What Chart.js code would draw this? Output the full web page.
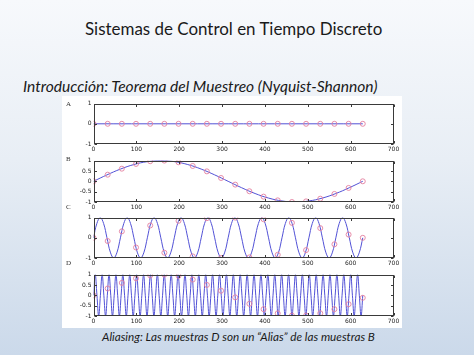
<!DOCTYPE html>
<html><head><meta charset="utf-8">
<script src="https://cdn.jsdelivr.net/npm/chart.js@4.4.1/dist/chart.umd.min.js"></script>
<style>
html,body{margin:0;padding:0;}
body{width:474px;height:355px;overflow:hidden;position:relative;background:linear-gradient(to bottom,#f7f9fc 0%,#e8eef5 45%,#cbd9ea 100%);}
.txt{position:absolute;white-space:nowrap;line-height:1;color:#1a1a1a;font-family:Lato,sans-serif;}
#fig{position:absolute;left:62px;top:96px;width:340px;height:232px;background:#ffffff;}
canvas{position:absolute;}
.lab{position:absolute;font-family:"Liberation Serif",serif;font-size:7px;line-height:1;color:#333;}
</style></head>
<body>
<div id="fig"></div>
<div class="txt" id="title">Sistemas de Control en Tiempo Discreto</div>
<div class="txt" id="sub" style="font-style:italic">Introducción: Teorema del Muestreo (Nyquist-Shannon)</div>
<div class="txt" id="cap" style="font-style:italic">Aliasing: Las muestras D son un “Alias” de las muestras B</div>
<script>
// ---- data ----
const panelNames = ["A", "B", "C", "D"];
const xTicks = [0, 100, 200, 300, 400, 500, 600, 700];

const sampleX = [0, 33.07, 66.14, 99.21, 132.28, 165.35, 198.42, 231.49, 264.56, 297.63,
  330.69, 363.76, 396.83, 429.9, 462.97, 496.04, 529.11, 562.18, 595.25, 628.32];
const sampleA = [0, 0, 0, 0, 0, 0, 0, 0, 0, 0, 0, 0, 0, 0, 0, 0, 0, 0, 0, 0];
const sampleB = [0, 0.32, 0.61, 0.84, 0.97, 1.0, 0.92, 0.74, 0.48, 0.16,
  -0.16, -0.48, -0.74, -0.92, -1.0, -0.97, -0.84, -0.61, -0.32, 0];
const sampleC = [0, -0.16, 0.32, -0.48, 0.61, -0.74, 0.84, -0.92, 0.97, -1.0,
  1.0, -0.97, 0.92, -0.84, 0.74, -0.61, 0.48, -0.32, 0.16, 0];
const sampleD = [0, 0.33, 0.6, 0.82, 0.96, 1.0, 0.94, 0.76, 0.5, 0.22,
  -0.1, -0.41, -0.67, -0.87, -0.98, -0.98, -0.87, -0.67, -0.43, -0.12];

const lineAX = [0, 628.32];
const lineAY = [0, 0];
const lineBX = [0, 31.42, 62.83, 94.25, 125.66, 157.08, 188.5, 219.91, 251.33, 282.74, 314.16,
  345.58, 376.99, 408.41, 439.82, 471.24, 502.65, 534.07, 565.49, 596.9, 628.32];
const lineBY = [0, 0.31, 0.59, 0.81, 0.95, 1, 0.95, 0.81, 0.59, 0.31, 0,
  -0.31, -0.59, -0.81, -0.95, -1, -0.95, -0.81, -0.59, -0.31, 0];
const lineCX = [0, 7.85, 15.71, 23.56, 31.42, 39.27, 47.12, 54.98, 62.83, 70.69,
  78.54, 86.39, 94.25, 102.1, 109.96, 117.81, 125.66, 133.52, 141.37, 149.23,
  157.08, 164.93, 172.79, 180.64, 188.5, 196.35, 204.2, 212.06, 219.91, 227.77,
  235.62, 243.47, 251.33, 259.18, 267.04, 274.89, 282.74, 290.6, 298.45, 306.31,
  314.16, 322.01, 329.87, 337.72, 345.58, 353.43, 361.28, 369.14, 376.99, 384.85,
  392.7, 400.55, 408.41, 416.26, 424.12, 431.97, 439.82, 447.68, 455.53, 463.39,
  471.24, 479.09, 486.95, 494.8, 502.65, 510.51, 518.36, 526.22, 534.07, 541.92,
  549.78, 557.63, 565.49, 573.34, 581.19, 589.05, 596.9, 604.76, 612.61, 620.47, 628.32];
const lineCY = [
  0, 0.71, 1, 0.71, 0, -0.71, -1, -0.71,
  0, 0.71, 1, 0.71, 0, -0.71, -1, -0.71,
  0, 0.71, 1, 0.71, 0, -0.71, -1, -0.71,
  0, 0.71, 1, 0.71, 0, -0.71, -1, -0.71,
  0, 0.71, 1, 0.71, 0, -0.71, -1, -0.71,
  0, 0.71, 1, 0.71, 0, -0.71, -1, -0.71,
  0, 0.71, 1, 0.71, 0, -0.71, -1, -0.71,
  0, 0.71, 1, 0.71, 0, -0.71, -1, -0.71,
  0, 0.71, 1, 0.71, 0, -0.71, -1, -0.71,
  0, 0.71, 1, 0.71, 0, -0.71, -1, -0.71,
  0];
const lineDX = [0, 4.03, 8.06, 12.08, 16.11, 20.14, 24.17, 28.19, 32.22, 36.25,
  40.28, 44.3, 48.33, 52.36, 56.39, 60.42, 64.44, 68.47, 72.5, 76.53,
  80.55, 84.58, 88.61, 92.64, 96.66, 100.69, 104.72, 108.75, 112.78, 116.8,
  120.83, 124.86, 128.89, 132.91, 136.94, 140.97, 145.0, 149.02, 153.05, 157.08,
  161.11, 165.14, 169.16, 173.19, 177.22, 181.25, 185.27, 189.3, 193.33, 197.36,
  201.38, 205.41, 209.44, 213.47, 217.5, 221.52, 225.55, 229.58, 233.61, 237.63,
  241.66, 245.69, 249.72, 253.74, 257.77, 261.8, 265.83, 269.85, 273.88, 277.91,
  281.94, 285.97, 289.99, 294.02, 298.05, 302.08, 306.1, 310.13, 314.16, 318.19,
  322.22, 326.24, 330.27, 334.3, 338.33, 342.35, 346.38, 350.41, 354.44, 358.46,
  362.49, 366.52, 370.55, 374.58, 378.6, 382.63, 386.66, 390.69, 394.71, 398.74,
  402.77, 406.8, 410.82, 414.85, 418.88, 422.91, 426.94, 430.96, 434.99, 439.02,
  443.05, 447.07, 451.1, 455.13, 459.16, 463.18, 467.21, 471.24, 475.27, 479.3,
  483.32, 487.35, 491.38, 495.41, 499.43, 503.46, 507.49, 511.52, 515.54, 519.57,
  523.6, 527.63, 531.66, 535.68, 539.71, 543.74, 547.77, 551.79, 555.82, 559.85,
  563.88, 567.9, 571.93, 575.96, 579.99, 584.02, 588.04, 592.07, 596.1, 600.13,
  604.15, 608.18, 612.21, 616.24, 620.26, 624.29, 628.32];
const lineDY = [
  0, 1, 0, -1, 0, 1, 0, -1, 0, 1, 0, -1, 0, 1, 0, -1,
  0, 1, 0, -1, 0, 1, 0, -1, 0, 1, 0, -1, 0, 1, 0, -1,
  0, 1, 0, -1, 0, 1, 0, -1, 0, 1, 0, -1, 0, 1, 0, -1,
  0, 1, 0, -1, 0, 1, 0, -1, 0, 1, 0, -1, 0, 1, 0, -1,
  0, 1, 0, -1, 0, 1, 0, -1, 0, 1, 0, -1, 0, 1, 0, -1,
  0, 1, 0, -1, 0, 1, 0, -1, 0, 1, 0, -1, 0, 1, 0, -1,
  0, 1, 0, -1, 0, 1, 0, -1, 0, 1, 0, -1, 0, 1, 0, -1,
  0, 1, 0, -1, 0, 1, 0, -1, 0, 1, 0, -1, 0, 1, 0, -1,
  0, 1, 0, -1, 0, 1, 0, -1, 0, 1, 0, -1, 0, 1, 0, -1,
  0, 1, 0, -1, 0, 1, 0, -1, 0, 1, 0, -1,
  0];

// ---- text placement ----
function fitText(id, family, style, targetW, left, baseline) {
  const el = document.getElementById(id);
  const c = document.createElement('canvas').getContext('2d');
  c.font = style + ' 100px ' + family;
  const w = c.measureText(el.textContent).width;
  const size = 100 * targetW / w;
  el.style.fontSize = size.toFixed(2) + 'px';
  el.style.left = left + 'px';
  el.style.top = (baseline - 0.887 * size).toFixed(2) + 'px';
}
fitText('title', 'Lato', 'normal', 298, 85, 36);
fitText('sub', 'Lato', 'italic', 355, 23, 93);
fitText('cap', 'Lato', 'italic', 273, 102, 341);

// ---- charts ----
const LINE = '#5252d6';
const MARK = '#e4809f';
const frameTicks = {
  id: 'frameTicks',
  afterDatasetsDraw(chart) {
    const { ctx, chartArea: a, scales: { x, y } } = chart;
    const L = Math.round(a.left) + 0.5, R = Math.round(a.right) - 0.5;
    const T = Math.round(a.top) + 0.5, B = Math.round(a.bottom) - 0.5;
    ctx.save();
    ctx.strokeStyle = '#3a3a3a';
    ctx.lineWidth = 1;
    ctx.strokeRect(L, T, R - L, B - T);
    ctx.beginPath();
    x.ticks.forEach(t => {
      const p = Math.round(x.getPixelForValue(t.value)) + 0.5;
      ctx.moveTo(p, B); ctx.lineTo(p, B - 2.5);
      ctx.moveTo(p, T); ctx.lineTo(p, T + 2.5);
    });
    y.ticks.forEach(t => {
      const p = Math.round(y.getPixelForValue(t.value)) + 0.5;
      ctx.moveTo(L, p); ctx.lineTo(L + 2.5, p);
      ctx.moveTo(R, p); ctx.lineTo(R - 2.5, p);
    });
    ctx.stroke();
    ctx.restore();
  }
};

function makePanel(name, top, h, lx, ly, sy, yStep, labelY) {
  const cv = document.createElement('canvas');
  cv.width = 340; cv.height = h + 16;
  cv.style.left = '62px'; cv.style.top = (top - 4) + 'px';
  cv.style.width = '340px'; cv.style.height = (h + 16) + 'px';
  document.body.appendChild(cv);
  const lab = document.createElement('div');
  lab.className = 'lab'; lab.textContent = name;
  lab.style.left = '66px'; lab.style.top = (labelY - 3.5) + 'px';
  document.body.appendChild(lab);
  const tickFont = { family: 'DejaVu Sans', size: 6 };
  new Chart(cv, {
    type: 'scatter',
    data: {
      datasets: [
        { data: sampleX.map((x, i) => ({ x, y: sy[i] })), showLine: false,
          pointRadius: 2.5, pointHoverRadius: 2.5, pointBorderWidth: 0.9,
          pointBorderColor: MARK, pointBackgroundColor: 'rgba(0,0,0,0)' },
        { data: lx.map((x, i) => ({ x, y: ly[i] })), showLine: true,
          borderColor: LINE, borderWidth: 1, pointRadius: 0, tension: 0.4, fill: false }
      ]
    },
    options: {
      responsive: false, animation: false, devicePixelRatio: 1,
      layout: { padding: { left: 0, right: 8.5, top: 4, bottom: 0 } },
      plugins: { legend: { display: false }, tooltip: { enabled: false } },
      events: [],
      scales: {
        x: { type: 'linear', min: 0, max: 700,
          afterBuildTicks: s => { s.ticks = xTicks.map(v => ({ value: v })); },
          ticks: { font: tickFont, color: '#222', padding: 2, maxRotation: 0, autoSkip: false,
            callback: v => String(v) },
          grid: { display: false, drawTicks: false, tickLength: 0 }, border: { display: false },
          afterFit: s => { s.height = 12; } },
        y: { min: -1, max: 1,
          ticks: { stepSize: yStep, font: tickFont, color: '#222', padding: 2,
            callback: v => String(Math.round(v * 10) / 10) },
          grid: { display: false, drawTicks: false, tickLength: 0 }, border: { display: false },
          afterFit: s => { s.width = 31.5; } }
      }
    },
    plugins: [frameTicks]
  });
}

makePanel(panelNames[0], 102, 42, lineAX, lineAY, sampleA, 1, 104);
makePanel(panelNames[1], 159, 43, lineBX, lineBY, sampleB, 0.5, 159.5);
makePanel(panelNames[2], 216, 42, lineCX, lineCY, sampleC, 0.5, 207);
makePanel(panelNames[3], 273, 43, lineDX, lineDY, sampleD, 0.5, 263);
</script>
</body></html>
